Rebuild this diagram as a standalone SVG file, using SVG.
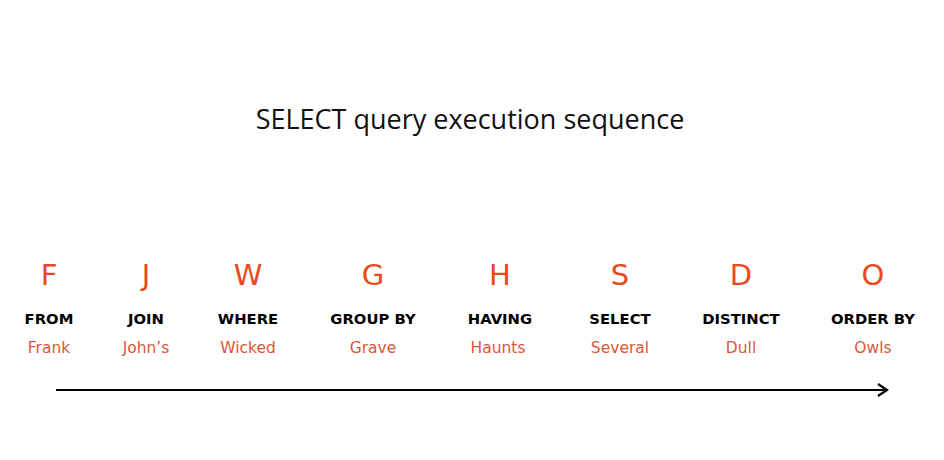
<svg xmlns="http://www.w3.org/2000/svg" width="944" height="460" viewBox="0 0 944 460">
<style>
.t{font-family:"Open Sans","Noto Sans",sans-serif;font-size:27px;fill:#111}
.l{font-family:"DejaVu Sans",Verdana,sans-serif;font-size:29px;fill:#E84A1A;text-anchor:middle}
.k{font-family:"DejaVu Sans",Verdana,sans-serif;font-size:14.8px;font-weight:bold;fill:#000;text-anchor:middle}
.w{font-family:"DejaVu Sans",Verdana,sans-serif;font-size:15.5px;fill:#D9573A;text-anchor:middle}
</style>
<defs><marker id="a" markerWidth="12" markerHeight="14" refX="10" refY="7" orient="auto" markerUnits="userSpaceOnUse"><path d="M1,1 L10,7 L1,13" fill="none" stroke="#000" stroke-width="2.2"/></marker></defs>
<rect width="944" height="460" fill="#fff"/>
<text class="t" x="470" y="129" text-anchor="middle">SELECT query execution sequence</text>
<g id="n1"><text class="l" x="49" y="285">F</text><text class="k" x="49" y="324">FROM</text><text class="w" x="49" y="353">Frank</text></g>
<g id="n2"><text class="l" x="146" y="285">J</text><text class="k" x="146" y="324">JOIN</text><text class="w" x="146" y="353">John’s</text></g>
<g id="n3"><text class="l" x="248" y="285">W</text><text class="k" x="248" y="324">WHERE</text><text class="w" x="248" y="353">Wicked</text></g>
<g id="n4"><text class="l" x="373" y="285">G</text><text class="k" x="373" y="324">GROUP BY</text><text class="w" x="373" y="353">Grave</text></g>
<g id="n5"><text class="l" x="500" y="285">H</text><text class="k" x="500" y="324">HAVING</text><text class="w" x="498" y="353">Haunts</text></g>
<g id="n6"><text class="l" x="620" y="285">S</text><text class="k" x="620" y="324">SELECT</text><text class="w" x="620" y="353">Several</text></g>
<g id="n7"><text class="l" x="741" y="285">D</text><text class="k" x="741" y="324">DISTINCT</text><text class="w" x="741" y="353">Dull</text></g>
<g id="n8"><text class="l" x="873" y="285">O</text><text class="k" x="873" y="324">ORDER BY</text><text class="w" x="873" y="353">Owls</text></g>
<g id="connectors"><line x1="56" y1="390" x2="887" y2="390" stroke="#000" stroke-width="2.2" marker-end="url(#a)"/></g>
</svg>
